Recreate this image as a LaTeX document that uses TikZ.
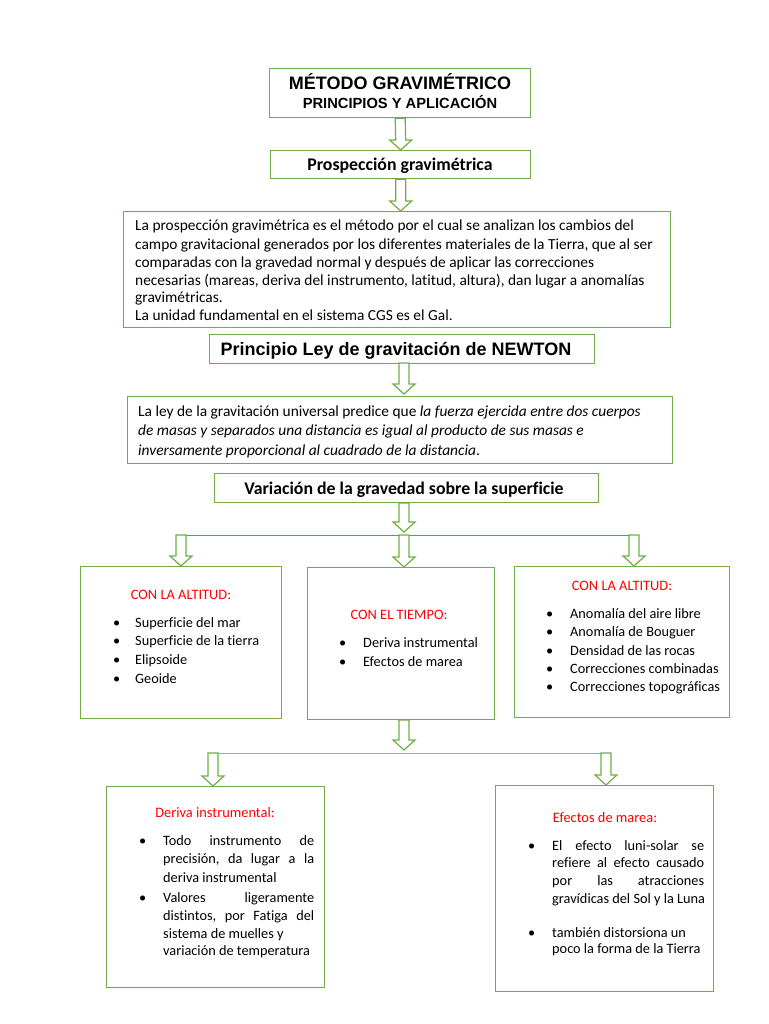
\documentclass[tikz,border=0pt]{standalone}
\usepackage{fontspec}
\setmainfont{Carlito}[Ligatures=NoCommon]
\newfontfamily\arialf{Liberation Sans}
\usetikzlibrary{calc}
\definecolor{gborder}{RGB}{112,173,71}
\definecolor{bline}{RGB}{91,135,210}
\definecolor{rtext}{RGB}{255,0,0}
\newcommand\garrow[2]{\draw[garrow] ($(#1)+(-5,0)$) -- ($(#2)+(-5,-10)$) -- ($(#2)+(-11,-10)$) -- (#2) -- ($(#2)+(11,-10)$) -- ($(#2)+(5,-10)$) -- ($(#1)+(5,0)$) -- cycle;}
\newcommand\tline[4]{\node[txt] (#1) at (#2,#3+5) {#4};}
\begin{document}
\begin{tikzpicture}[x=1pt,y=-1pt,
  box/.style={draw=gborder, line width=1.4pt, inner sep=0pt, anchor=north west},
  garrow/.style={draw=gborder, line width=1.2pt, fill=white, line join=miter},
  txt/.style={inner sep=0pt, anchor=base west, font=\fontsize{15.4}{18}\selectfont},
  stxt/.style={inner sep=0pt, anchor=base west, font=\fontsize{14.3}{17}\selectfont},
  red/.style={inner sep=0pt, anchor=base, text=rtext, font=\fontsize{14.4}{17}\selectfont},
  hd/.style={inner sep=0pt, anchor=base, font=\bfseries\fontsize{17.8}{20}\selectfont},
  ahd/.style={inner sep=0pt, anchor=base, font=\arialf\bfseries\fontsize{18}{20}\selectfont},
  conn/.style={draw=bline, line width=1pt},
]
\useasboundingbox (0,0) rectangle (768,1024);

% title
\node[box, minimum width=261pt, minimum height=49pt] (b1) at (269,68) {};
\node[ahd] (t1a) at (400,83+6.5) {MÉTODO GRAVIMÉTRICO};
\node[ahd, font=\arialf\bfseries\fontsize{14.7}{16}\selectfont] (t1b) at (400,103+5.5) {PRINCIPIOS Y APLICACIÓN};

\node[box, minimum width=260pt, minimum height=28pt] (b2) at (270,150) {};
\node[hd] (t2) at (400,165+6) {Prospección gravimétrica};

\node[box, minimum width=547pt, minimum height=116pt] (b3) at (123,211) {};
\tline{l31}{135}{226}{La prospección gravimétrica es el método por el cual se analizan los cambios del}
\tline{l32}{135}{244}{campo gravitacional generados por los diferentes materiales de la Tierra, que al ser}
\tline{l33}{135}{262}{comparadas con la gravedad normal y después de aplicar las correcciones}
\tline{l34}{135}{280}{necesarias (mareas, deriva del instrumento, latitud, altura), dan lugar a anomalías}
\tline{l35}{135}{297}{gravimétricas.}
\tline{l36}{135}{315}{La unidad fundamental en el sistema CGS es el Gal.}

\node[box, minimum width=385pt, minimum height=29pt] (b4) at (209,334) {};
\node[ahd] (t4) at (396,349+6.5) {Principio Ley de gravitación de NEWTON};

\node[box, minimum width=545pt, minimum height=67pt] (b5) at (127,396) {};
\tline{l51}{138}{411}{La ley de la gravitación universal predice que \textit{la fuerza ejercida entre dos cuerpos}}
\tline{l52}{138}{430}{\textit{de masas y separados una distancia es igual al producto de sus masas e}}
\tline{l53}{138}{450}{\textit{inversamente proporcional al cuadrado de la distancia}.}

\node[box, minimum width=384pt, minimum height=29pt] (b6) at (214,473) {};
\node[hd] (t6) at (404,488+6) {Variación de la gravedad sobre la superficie};

% level 1 split
\coordinate (s1) at (181,535);
\coordinate (s2) at (404,535);
\coordinate (s3) at (634,535);
\draw[conn] (s1) -- (s3);

\node[box, minimum width=201pt, minimum height=152pt] (c1) at (80,566) {};
\node[box, minimum width=187pt, minimum height=152pt] (c2) at (307,567) {};
\node[box, minimum width=215pt, minimum height=151pt] (c3) at (514,566) {};

\node[red] (r1) at (181,594+5) {CON LA ALTITUD:};
\node[stxt] (i11b) at (113,622+5) {•};
\node[stxt] (i11) at (135,622+5) {Superficie del mar};
\node[stxt] (i12b) at (113,640+5) {•};
\node[stxt] (i12) at (135,640+5) {Superficie de la tierra};
\node[stxt] (i13b) at (113,659+5) {•};
\node[stxt] (i13) at (135,659+5) {Elipsoide};
\node[stxt] (i14b) at (113,678+5) {•};
\node[stxt] (i14) at (135,678+5) {Geoide};

\node[red] (r2) at (399,614+5) {CON EL TIEMPO:};
\node[stxt] (i21b) at (339,642+5) {•};
\node[stxt] (i21) at (363,642+5) {Deriva instrumental};
\node[stxt] (i22b) at (339,661+5) {•};
\node[stxt] (i22) at (363,661+5) {Efectos de marea};

\node[red] (r3) at (622,585+5) {CON LA ALTITUD:};
\node[stxt] (i31b) at (546,613+5) {•};
\node[stxt] (i31) at (570,613+5) {Anomalía del aire libre};
\node[stxt] (i32b) at (546,631+5) {•};
\node[stxt] (i32) at (570,631+5) {Anomalía de Bouguer};
\node[stxt] (i33b) at (546,650+5) {•};
\node[stxt] (i33) at (570,650+5) {Densidad de las rocas};
\node[stxt] (i34b) at (546,668+5) {•};
\node[stxt] (i34) at (570,668+5) {Correcciones combinadas};
\node[stxt] (i35b) at (546,686+5) {•};
\node[stxt] (i35) at (570,686+5) {Correcciones topográficas};

% level 2 split
\coordinate (u1) at (213,753);
\coordinate (u2) at (404,753);
\coordinate (u3) at (606,753);
\draw[conn, draw=bline!70] (u1) -- (u3);

\node[box, minimum width=218pt, minimum height=201pt] (d1) at (106,786) {};
\node[box, minimum width=218pt, minimum height=206pt] (d2) at (495,785) {};

\node[red] (r4) at (215,812+5) {Deriva instrumental:};
\node[stxt] (j1b) at (139,840+5) {•};
\node[stxt] (j11) at (163,840+5) {\hbox to 151pt{Todo\hfill instrumento\hfill de}};
\node[stxt] (j12) at (163,858+5) {\hbox to 151pt{precisión,\hfill da\hfill lugar\hfill a\hfill la}};
\node[stxt] (j13) at (163,877+5) {deriva instrumental};
\node[stxt] (j2b) at (139,897+5) {•};
\node[stxt] (j21) at (163,897+5) {\hbox to 151pt{Valores\hfill ligeramente}};
\node[stxt] (j22) at (163,915+5) {\hbox to 151pt{distintos,\hfill por\hfill Fatiga\hfill del}};
\node[stxt] (j23) at (163,933+5) {sistema de muelles y};
\node[stxt] (j24) at (163,950+5) {variación de temperatura};

\node[red] (r5) at (605,817+5) {Efectos de marea:};
\node[stxt] (k1b) at (528,845+5) {•};
\node[stxt] (k11) at (552,845+5) {\hbox to 152pt{El\hfill efecto\hfill luni-solar\hfill se}};
\node[stxt] (k12) at (552,862+5) {\hbox to 152pt{refiere\hfill al\hfill efecto\hfill causado}};
\node[stxt] (k13) at (552,880+5) {\hbox to 152pt{por\hfill las\hfill atracciones}};
\node[stxt] (k14) at (552,898+5) {gravídicas del Sol y la Luna};
\node[stxt] (k2b) at (528,932+5) {•};
\node[stxt] (k21) at (552,932+5) {también distorsiona un};
\node[stxt] (k22) at (552,948+5) {poco la forma de la Tierra};

% arrows
\garrow{b1.south}{b2.north}
\garrow{b2.south}{b3.north -| b2.south}
\coordinate (a3) at (404,363);
\coordinate (a3e) at (404,394);
\garrow{a3}{a3e}
\coordinate (a4) at (404,503);
\coordinate (a4e) at (404,532);
\garrow{a4}{a4e}
\garrow{s1}{s1 |- c1.north}
\garrow{s2}{s2 |- c2.north}
\garrow{s3}{s3 |- c3.north}
\coordinate (a5) at (404,720);
\coordinate (a5e) at (404,750);
\garrow{a5}{a5e}
\garrow{u1}{u1 |- d1.north}
\garrow{u3}{u3 |- d2.north}
\end{tikzpicture}
\end{document}
